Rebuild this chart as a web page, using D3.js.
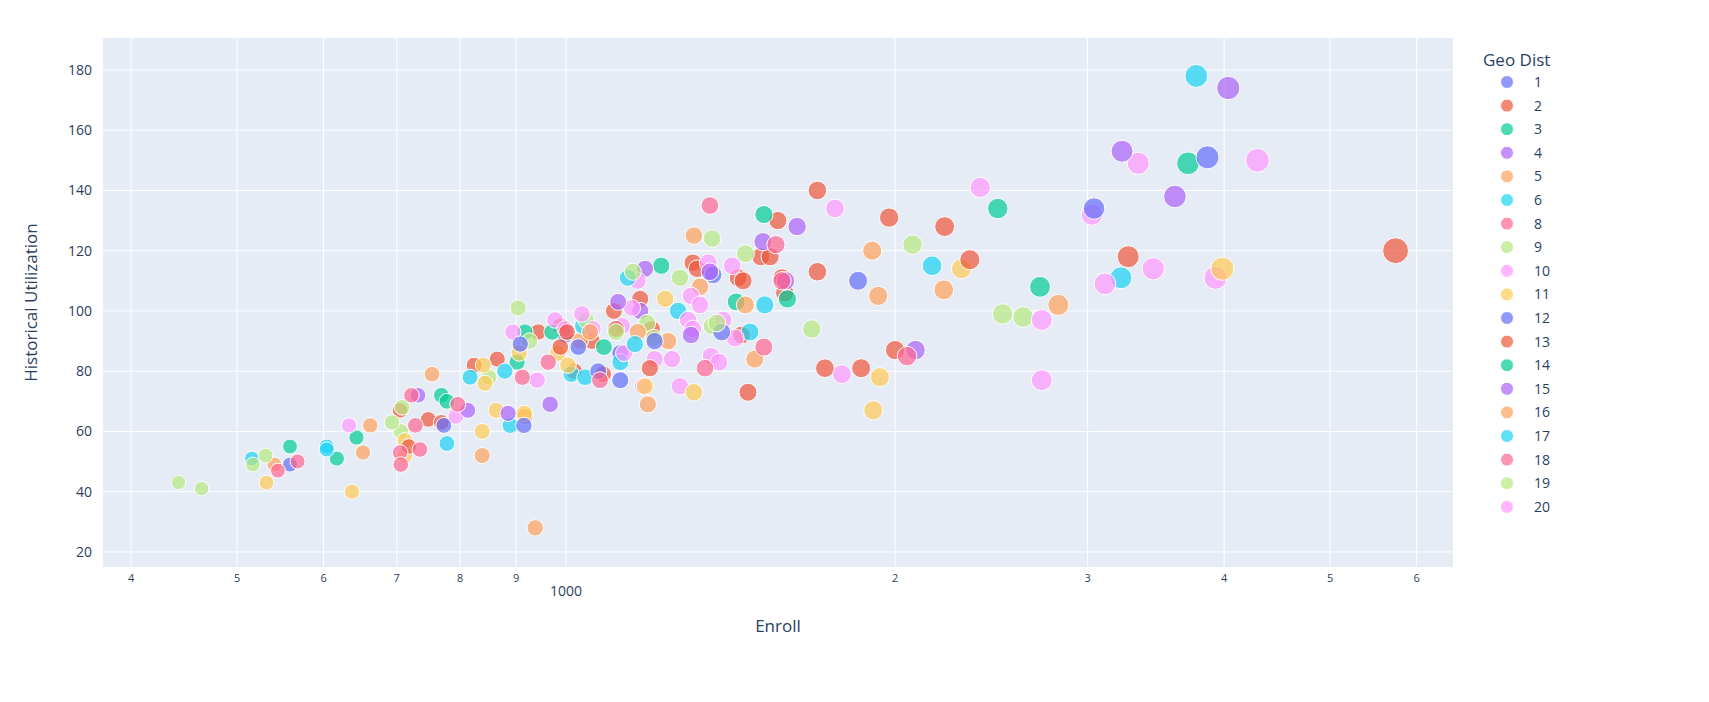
<!DOCTYPE html>
<html><head><meta charset="utf-8">
<script src="https://cdn.jsdelivr.net/npm/d3@7"></script>
<style>body{margin:0;background:#fff;font-family:"Open Sans",sans-serif;}</style>
</head><body><svg id="c" width="1709" height="702"></svg>
<script>
const enroll=[442,464,516,517,531,541,545,559,568,559,532,604,604,617,643,633,652,637,662,693,705,708,706,712,712,705,706,718,728,735,722,732,748,754,769,778,769,773,778,796,793,817,813,824,850,840,843,838,838,865,863,879,885,889,902,904,908,917,906,915,912,916,917,894,926,941,943,937,963,967,971,977,983,988,988,998,998,1002,1004,1011,1017,1026,1030,1034,1036,1041,1043,1052,1056,1058,1070,1074,1081,1083,1106,1111,1111,1116,1121,1121,1121,1125,1130,1139,1149,1151,1156,1163,1163,1169,1169,1176,1181,1181,1186,1188,1193,1198,1203,1205,1205,1222,1232,1240,1250,1266,1271,1271,1293,1301,1301,1306,1306,1309,1309,1318,1326,1326,1340,1349,1354,1354,1357,1360,1360,1363,1374,1380,1388,1392,1419,1428,1431,1437,1447,1452,1459,1459,1467,1473,1488,1507,1514,1517,1520,1517,1537,1556,1562,1576,1576,1585,1594,1627,1588,1678,1698,1698,1725,1762,1788,1862,1850,1906,1910,1930,1937,1975,2000,2051,2088,2075,2162,2216,2220,2300,2341,2393,2483,2508,2619,2714,2724,2724,2821,3028,3041,3112,3219,3226,3268,3338,3445,3606,3707,3772,3862,3928,3985,4035,4291,5740];
const util=[43,41,51,49,52,49,47,49,50,55,43,55,54,51,58,62,53,40,62,63,67,68,60,57,52,53,49,55,62,54,72,72,64,79,72,70,63,62,56,69,65,78,67,82,78,82,76,60,52,84,67,80,66,62,83,101,89,93,86,62,78,66,65,93,90,77,93,28,83,69,93,97,86,95,88,94,92,93,82,79,80,88,90,99,95,78,97,93,90,94,80,77,79,88,100,93,94,103,86,83,77,95,86,111,101,113,89,110,93,104,100,75,75,114,96,69,81,94,91,84,90,115,104,90,84,100,111,75,97,92,105,94,116,125,73,114,108,102,81,116,135,113,85,95,124,112,96,83,93,97,115,91,103,111,92,110,102,119,73,93,84,118,123,132,102,88,118,122,130,111,110,106,104,128,110,94,113,140,81,134,79,81,110,120,67,105,78,131,87,85,87,122,115,107,128,114,117,141,134,99,98,108,97,77,102,132,134,109,111,153,118,149,114,138,149,178,151,111,114,174,150,120];
const geo=[9,9,6,9,9,5,18,1,18,3,11,6,6,3,3,10,5,11,16,19,2,9,9,11,11,18,18,13,18,18,18,15,2,5,3,3,2,12,6,18,10,6,15,2,9,11,11,11,5,2,11,6,15,6,3,9,12,3,11,12,18,11,5,10,9,10,2,5,18,15,3,10,11,2,13,10,1,13,11,6,2,12,5,10,6,6,9,16,2,10,12,18,2,3,2,19,13,15,1,6,1,10,10,17,10,19,17,10,16,2,4,10,11,4,9,16,13,2,9,10,12,3,11,5,10,6,9,10,10,15,10,10,2,5,11,2,5,10,18,10,18,15,10,9,9,12,19,10,12,10,10,10,3,2,2,2,5,9,13,6,16,2,15,3,6,18,13,18,2,2,18,2,3,15,15,9,2,2,13,10,10,13,12,5,11,5,11,2,13,18,15,9,6,16,2,11,13,10,3,9,9,3,10,10,16,10,12,10,6,15,13,10,10,15,3,6,12,10,11,15,10,13];
const groups=[1,2,3,4,5,6,8,9,10,11,12,13,14,15,16,17,18,19,20];
const palette=["#636efa","#EF553B","#00cc96","#ab63fa","#FFA15A","#19d3f3","#FF6692","#B6E880","#FF97FF","#FECB52"];
const xTicks=[400,500,600,700,800,900,1000,2000,3000,4000,5000,6000];
const yTicks=[20,40,60,80,100,120,140,160,180];

const svg=d3.select("#c");
const L=103,R=1453,T=38,B=567;
const x=d3.scaleLog().domain([377,6478]).range([L,R]);
const y=d3.scaleLinear().domain([15,190.6]).range([B,T]);
const col=g=>palette[groups.indexOf(g)%10];
const rad=e=>5+Math.sqrt(e)*0.105;
const txt="#2a3f5f";
svg.append("rect").attr("x",L).attr("y",T).attr("width",R-L).attr("height",B-T).attr("fill","#E5ECF6");
const gx=svg.append("g");
xTicks.forEach(t=>gx.append("line").attr("x1",x(t)).attr("x2",x(t)).attr("y1",T).attr("y2",B).attr("stroke","#fff").attr("stroke-width",1));
yTicks.forEach(t=>gx.append("line").attr("y1",y(t)).attr("y2",y(t)).attr("x1",L).attr("x2",R).attr("stroke","#fff").attr("stroke-width",1));
xTicks.forEach(t=>{
  const major=t===1000;
  svg.append("text").attr("x",x(t)).attr("y",major?596:582).attr("text-anchor","middle")
   .attr("font-size",major?14:11).attr("fill",txt).text(major?"1000":String(t).replace(/0+$/,""));
});
yTicks.forEach(t=>svg.append("text").attr("x",L-11).attr("y",y(t)+5).attr("text-anchor","end").attr("font-size",14).attr("fill",txt).text(t));
svg.append("text").attr("x",(L+R)/2).attr("y",632).attr("text-anchor","middle").attr("font-size",17).attr("fill",txt).text("Enroll");
svg.append("text").attr("transform",`translate(37,${(T+B)/2}) rotate(-90)`).attr("text-anchor","middle").attr("font-size",17).attr("fill",txt).text("Historical Utilization");
const pts=enroll.map((e,i)=>({e,u:util[i],g:geo[i]})).sort((a,b)=>groups.indexOf(a.g)-groups.indexOf(b.g));
svg.append("g").selectAll("circle").data(pts).join("circle")
 .attr("cx",d=>x(d.e)).attr("cy",d=>y(d.u)).attr("r",d=>rad(d.e))
 .attr("fill",d=>col(d.g)).attr("fill-opacity",0.7).attr("stroke","#fff").attr("stroke-width",1);
const lg=svg.append("g");
lg.append("text").attr("x",1483).attr("y",66).attr("font-size",17).attr("fill",txt).text("Geo Dist");
groups.forEach((g,i)=>{
  const yy=82+i*23.6;
  lg.append("circle").attr("cx",1507).attr("cy",yy).attr("r",6.5).attr("fill",col(g)).attr("fill-opacity",0.7).attr("stroke","#fff");
  lg.append("text").attr("x",1534).attr("y",yy+5).attr("font-size",14).attr("fill",txt).text(g);
});
</script></body></html>
